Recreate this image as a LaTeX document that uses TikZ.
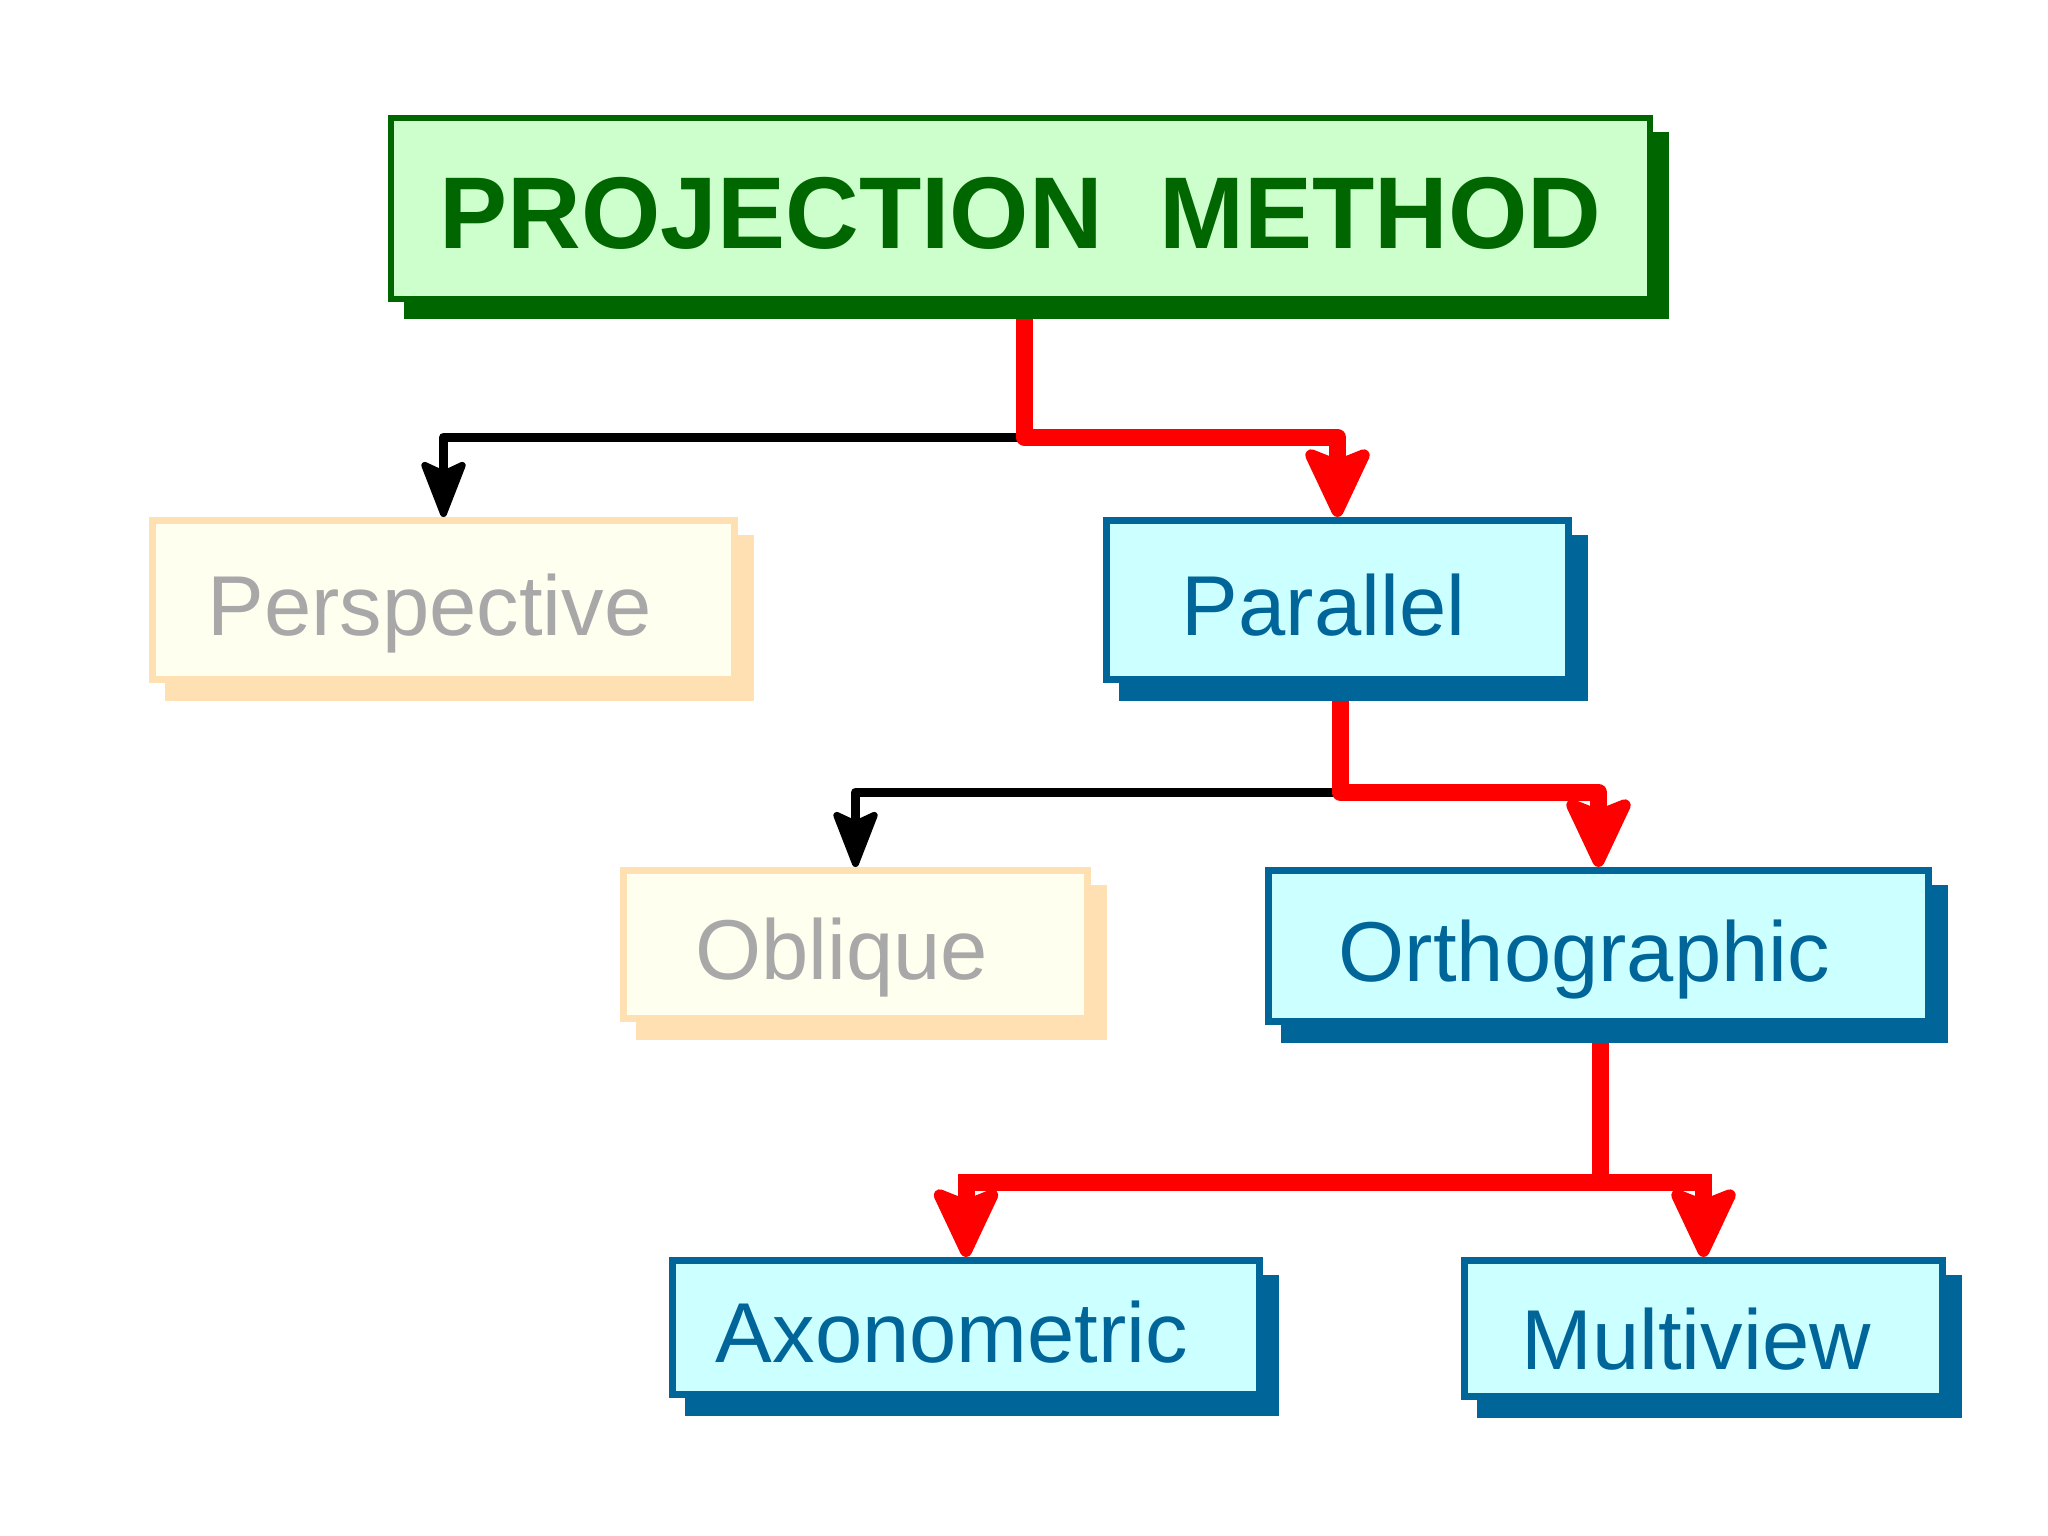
\documentclass[tikz,border=0pt]{standalone}
\usepackage{fontspec}
\setmainfont{Liberation Sans}
\usetikzlibrary{arrows.meta,shadows}
\definecolor{dgreen}{HTML}{006600}
\definecolor{lgreen}{HTML}{CCFFCC}
\definecolor{dblue}{HTML}{006699}
\definecolor{lblue}{HTML}{CCFFFF}
\definecolor{lorange}{HTML}{FEE0B2}
\definecolor{ivory}{HTML}{FFFFF0}
\definecolor{gtext}{HTML}{A8A8A8}
\definecolor{rline}{HTML}{FF0000}
\begin{document}
\begin{tikzpicture}[x=1pt,y=-1pt,
  boxbase/.style={draw, line width=7pt, inner sep=0pt, text height=70pt, text depth=0pt,
    font=\fontsize{85}{100}\selectfont, execute at end node=\hspace*{28pt}},
  bluebox/.style={boxbase, draw=dblue, fill=lblue, text=dblue,
    general shadow={fill=dblue, draw=dblue, line width=7pt, shadow xshift=16pt, shadow yshift=-18pt}},
  palebox/.style={boxbase, draw=lorange, fill=ivory, text=gtext,
    general shadow={fill=lorange, draw=lorange, line width=7pt, shadow xshift=16pt, shadow yshift=-18pt}},
  greenbox/.style={draw=dgreen, fill=lgreen, text=dgreen, line width=6pt, inner sep=0pt,
    text height=79pt, text depth=0pt, font=\fontsize{102}{120}\selectfont\bfseries,
    general shadow={fill=dgreen, draw=dgreen, line width=6pt, shadow xshift=16pt, shadow yshift=-17pt}},
  redline/.style={draw=rline, line width=17pt, line join=round},
  blkline/.style={draw=black, line width=9pt, line join=round},
  redtip/.style={redline, -{Stealth[length=80pt, width=74pt, inset=14pt, round, line width=12pt]}},
  blktip/.style={blkline, -{Stealth[length=64pt, width=49pt, inset=11pt, round, line width=7pt]}}
]
\useasboundingbox (0,0) rectangle (2048,1536);

\node[greenbox, minimum width=1259pt, minimum height=181pt] (top) at (1020.5,208.5) {PROJECTION~~METHOD};

\node[palebox, minimum width=582pt, minimum height=159pt] (persp) at (443.5,600) {Perspective};
\node[bluebox, minimum width=462pt, minimum height=159pt] (par) at (1337.5,600) {Parallel};

\node[palebox, minimum width=464pt, minimum height=148pt] (obl) at (855.5,944.5) {Oblique};
\node[bluebox, minimum width=660pt, minimum height=151pt] (orth) at (1598.5,946) {Orthographic};

\node[bluebox, minimum width=587pt, minimum height=134pt] (axo) at (966,1327.5) {Axonometric};
\node[bluebox, minimum width=478pt, minimum height=136pt, text height=82pt,
  execute at end node=\hspace*{-13pt}] (multi) at (1703.5,1328.5) {Multiview};

% level 1
\coordinate (j1) at ([xshift=3.5pt]top.south |- 0,437);
\draw[blktip] (j1) -| (persp.north);
\draw[redtip] ([xshift=3.5pt,yshift=-17pt]top.south) -- (j1) -| (par.north);

% level 2
\coordinate (j2) at ([xshift=2.5pt]par.south |- 0,792);
\draw[blktip] (j2) -| (obl.north);
\draw[redtip] ([xshift=2.5pt,yshift=-18pt]par.south) -- (j2) -| (orth.north);

% level 3
\coordinate (j3) at ([xshift=1.5pt]orth.south |- 0,1182);
\draw[redline] ([xshift=1.5pt,yshift=-18pt]orth.south) -- (j3);
\draw[redtip, line join=miter] (j3) -| (axo.north);
\draw[redtip, line join=miter] (j3) -| (multi.north);
\end{tikzpicture}
\end{document}
